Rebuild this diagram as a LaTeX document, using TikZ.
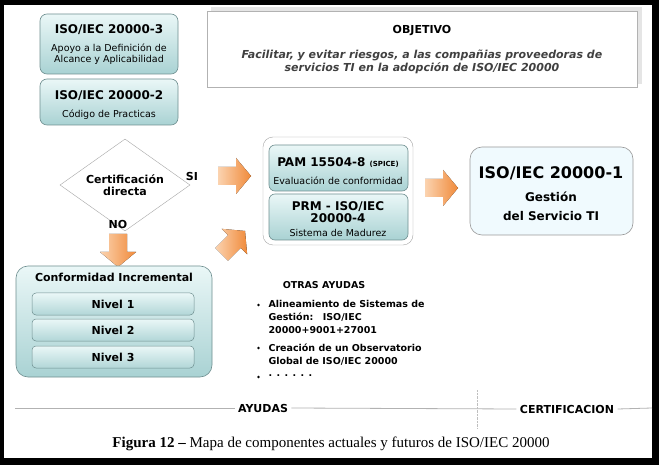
\documentclass[tikz,border=0pt]{standalone}
\usepackage{fontspec}
\setmainfont{DejaVu Sans}
\newfontfamily\capfont{Liberation Serif}
\usetikzlibrary{shapes.geometric}
\definecolor{boxtop}{HTML}{EAF7F7}
\definecolor{boxbot}{HTML}{A9D2D3}
\definecolor{boxline}{HTML}{6F8F90}
\definecolor{arrtop}{HTML}{FBD3B0}
\definecolor{arrbot}{HTML}{F08A3A}
\tikzset{
 tealbox/.style={rounded corners=7pt, draw=boxline, top color=boxtop, bottom color=boxbot, line width=0.6pt},
 nivbox/.style={rounded corners=4pt, draw=boxline, top color=boxtop, bottom color=boxbot!90!white, line width=0.5pt},
 orfill/.style={left color=arrtop, right color=arrbot, draw=none},
 bt/.style={font=\bfseries\fontsize{12}{14}\selectfont, align=center},
 st/.style={font=\fontsize{9.5}{11}\selectfont, align=center},
 it/.style={font=\fontsize{9.5}{13}\selectfont\bfseries, align=left},
}
\newcommand{\blockarrow}[3]{%
 \begin{scope}[shift={(#1,#2)}, rotate=#3]
 \fill[orfill] (-16,-9) -- (2,-9) -- (2,-18) -- (17,0) -- (2,18) -- (2,9) -- (-16,9) -- cycle;
 \end{scope}}
\begin{document}
\begin{tikzpicture}[x=1pt,y=-1pt]
\useasboundingbox (0,0) rectangle (659,465);
\fill[black] (0,0) rectangle (659,465);
\fill[white] (4,5) rectangle (652,458);
% top boxes
\draw[tealbox] (40,14) rectangle (178,74);
\node[bt] (t3) at (109,30) {ISO/IEC 20000-3};
\node[st] (t3s) at (109,54) {Apoyo a la Definición de\\Alcance y Aplicabilidad};
\draw[tealbox] (40,79) rectangle (178,125);
\node[bt] (t2) at (109,96) {ISO/IEC 20000-2};
\node[st] (t2s) at (109,115) {Código de Practicas};
% objective
\fill[gray!20] (211,7) rectangle (642,84);
\draw[gray!60, fill=white] (207,11) rectangle (637,87);
\node[font=\bfseries\fontsize{11}{13}\selectfont] (obj) at (422,31) {OBJETIVO};
\node[font=\bfseries\itshape\fontsize{11}{13.5}\selectfont, text=black!75, align=center] (objt) at (422,62) {Facilitar, y evitar riesgos, a las compañias proveedoras de\\servicios TI en la adopción de ISO/IEC 20000};
% diamond
\node[diamond, draw=gray!70, minimum width=130pt, minimum height=92pt, inner sep=0pt, aspect=1.4] (dec) at (125,185) {};
\node[bt, font=\bfseries\fontsize{11}{12.5}\selectfont] at (dec) {Certificación\\directa};
\node[bt, font=\bfseries\fontsize{11}{13}\selectfont] (si) at (192,176) {SI};
\node[bt, font=\bfseries\fontsize{11}{13}\selectfont] (no) at (118,224) {NO};
% arrows
\blockarrow{234}{176}{0}
\blockarrow{118}{250}{-90}
\blockarrow{233}{243}{45}
\blockarrow{441}{188}{0}
% container
\draw[rounded corners=10pt, draw=gray!70, fill=white] (263,137) rectangle (413,245);
\draw[tealbox, rounded corners=6pt] (269,145) rectangle (408,191);
\node[bt] (pam) at (338,163) {PAM 15504-8 {\fontsize{7}{8}\selectfont (SPICE)}};
\node[st] (pams) at (338,181) {Evaluación de conformidad};
\draw[tealbox, rounded corners=6pt] (269,194) rectangle (408,240);
\node[bt, font=\bfseries\fontsize{12}{12.5}\selectfont] (prm) at (338,212) {PRM - ISO/IEC\\20000-4};
\node[st] (prms) at (338,233) {Sistema de Madurez};
% 20000-1
\draw[rounded corners=12pt, draw=gray!80, fill=cyan!6, line width=0.6pt] (470,147) rectangle (633,235);
\node[font=\bfseries\fontsize{16}{18}\selectfont] (t1) at (551,173) {ISO/IEC 20000-1};
\node[font=\bfseries\fontsize{12}{19}\selectfont, align=center] (t1s) at (551,206) {Gestión\\del Servicio TI};
% conformidad
\draw[tealbox, rounded corners=12pt] (16,266) rectangle (212,377);
\node[font=\bfseries\fontsize{11}{13}\selectfont] (ci) at (114,277) {Conformidad Incremental};
\draw[nivbox] (32,293) rectangle (194,315); \node[bt,font=\bfseries\fontsize{11}{13}\selectfont] (n1) at (113,304) {Nivel 1};
\draw[nivbox] (32,319) rectangle (194,341); \node[bt,font=\bfseries\fontsize{11}{13}\selectfont] (n2) at (113,330) {Nivel 2};
\draw[nivbox] (32,346) rectangle (194,368); \node[bt,font=\bfseries\fontsize{11}{13}\selectfont] (n3) at (113,357) {Nivel 3};
% otras ayudas
\node[font=\bfseries\fontsize{9.5}{11}\selectfont] (oa) at (324,285) {OTRAS AYUDAS};
\node[it, anchor=north west] (b1) at (265,297) {Alineamiento de Sistemas de\\Gestión:\quad ISO/IEC\\20000+9001+27001};
\node[it, anchor=north west] (b2) at (265,340) {Creación de un Observatorio\\Global de ISO/IEC 20000};
\node[it, anchor=north west] (b3) at (265,371) {. . . . . .};
\foreach \yy in {305,348,377} \fill (258.5,\yy) circle (1.4pt);
% bottom
\node[font=\bfseries\fontsize{11}{13}\selectfont] (ay) at (263,408) {AYUDAS};
\node[font=\bfseries\fontsize{11}{13}\selectfont] (ce) at (567,409) {CERTIFICACION};
\draw[gray!60, line width=0.8pt] (15,408) -- (ay.west);
\draw[gray!60, line width=0.8pt] (ay.east) -- (ce.west);
\draw[gray!60, line width=0.8pt] (ce.east) -- (652,408);
\draw[gray!50, densely dotted] (477,390) -- (477,428);
\node[font=\capfont\fontsize{15}{17}\selectfont] (cap) at (331,444) {\textbf{Figura 12 –} Mapa de componentes actuales y futuros de ISO/IEC 20000};
\end{tikzpicture}
\end{document}
